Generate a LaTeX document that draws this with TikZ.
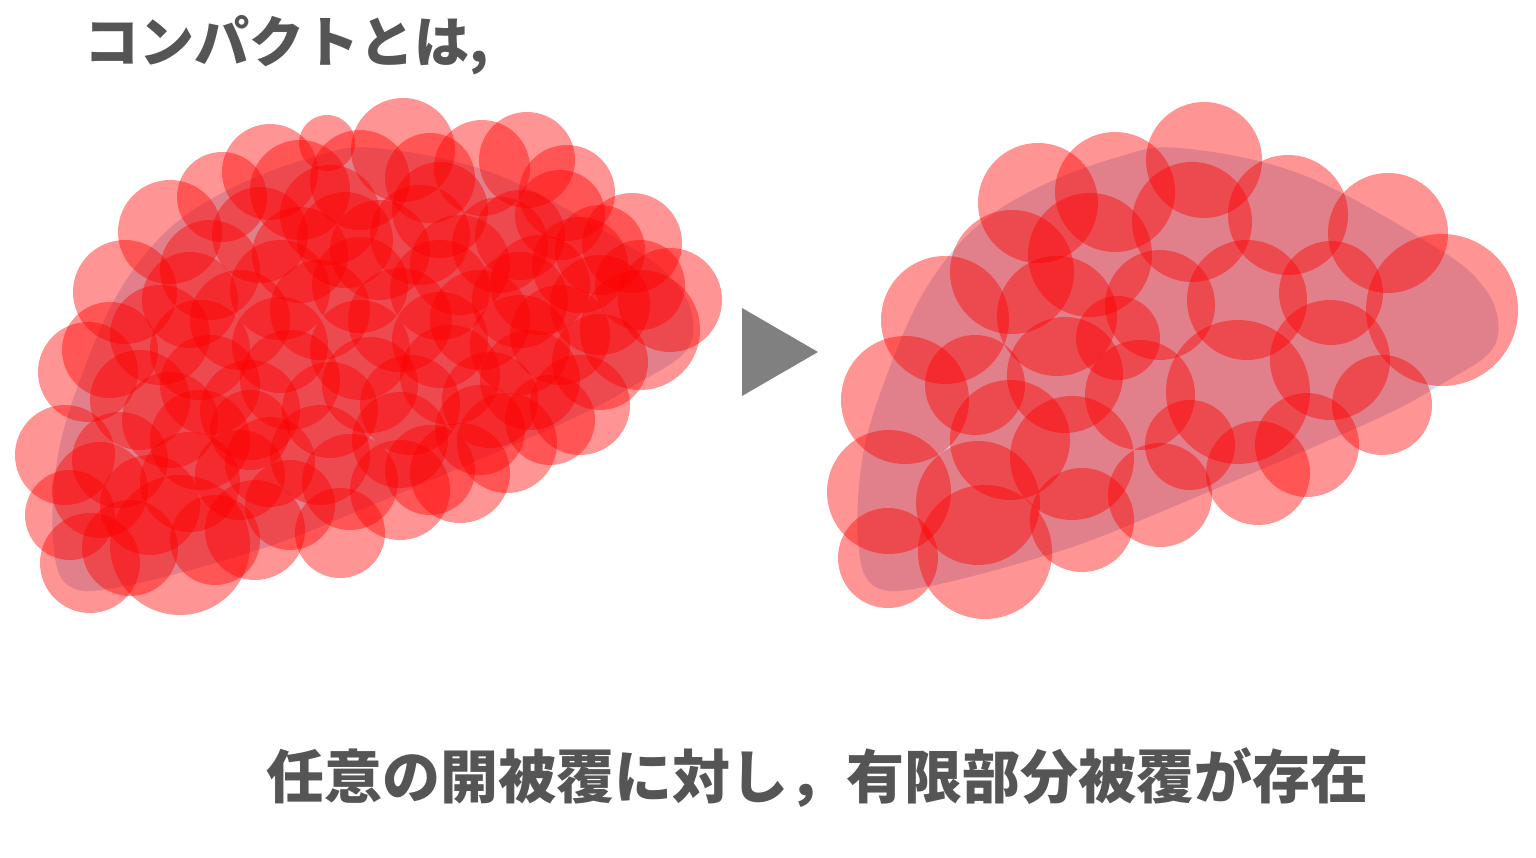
\documentclass[tikz,border=0pt]{standalone}
\usepackage{fontspec}
\newfontfamily\jpfont{Noto Sans CJK JP}
\definecolor{txtgray}{RGB}{85,85,85}
\definecolor{arrowgray}{RGB}{128,128,128}
\definecolor{blobgray}{RGB}{204,222,240}
\tikzset{
  circ/.style={fill=red, fill opacity=0.42},
  blob/.style={fill=blobgray},
}
\begin{document}
\begin{tikzpicture}[x=1pt,y=-1pt]
\fill[white] (0,0) rectangle (1536,858);
\useasboundingbox (0,0) rectangle (1536,858);
% the compact sets
\foreach \s in {0,-805}{
 \fill[blob, xshift=\s pt] plot[smooth cycle, tension=0.6] coordinates {
  (1180,148) (1303,175) (1437,248) (1482,285) (1498,320) (1490,352)
  (1445,382) (1370,422) (1170,508) (1063,550) (930,586) (874,586)
  (858,540) (863,455) (888,372) (925,290) (975,228) (1037,188) (1115,158)};
}
% left cover (many open sets)
\foreach \x/\y/\r in {
 90/563/50, 180/545/70, 65/455/50, 88/372/50, 125/292/52, 170/232/52,
 222/197/45, 270/172/48, 327/143/28, 300/190/50, 403/150/52, 482/168/48,
 527/160/48, 567/193/48, 632/243/50, 670/300/52, 640/330/60, 580/405/50,
 507/443/50, 460/473/50, 400/490/50, 340/533/45, 255/530/50,
 330/215/50, 440/210/48, 520/235/45, 600/250/45,
 210/270/50, 300/255/48, 380/250/50, 460/265/50, 540/285/50,
 160/335/50, 240/320/50, 320/310/50, 400/320/52, 480/320/50, 560/335/50,
 140/400/50, 210/385/50, 290/380/50, 370/385/48, 450/375/50, 530/380/50,
 120/460/48, 200/440/50, 250/430/40, 320/455/50, 400/440/48, 480/430/45,
 150/505/50, 240/475/45, 290/505/45,
 360/180/50, 430/178/45, 560/215/45,
 260/235/48, 345/240/48, 420/235/50, 500/245/48, 580/265/48, 640/285/45,
 190/300/48, 280/290/50, 360/285/48, 440/290/50, 520/300/48, 600/305/50,
 110/350/48, 200/350/50, 280/345/48, 360/350/50, 440/340/48, 520/345/50, 600/362/48,
 170/420/48, 250/410/50, 330/410/48, 410/405/50, 490/400/48, 550/420/45,
 100/490/48, 190/482/50, 270/462/45, 350/482/48, 430/470/45,
 130/548/48, 215/540/45, 70/515/45}
 {\fill[circ] (\x,\y) circle[radius=\r pt];}
% right cover (finite subcover)
\foreach \x/\y/\r in {
 1038/203/60, 1115/192/60, 1204/160/58, 1192/222/60, 1288/215/60,
 1388/233/60, 1442/310/76, 1012/272/62, 1090/255/62, 1057/316/60,
 945/320/64, 1160/305/55, 1247/300/60, 1331/293/52, 1238/392/72,
 1330/360/60, 1140/395/55, 1065/375/58, 905/400/64, 1010/440/60,
 1072/458/62, 978/503/62, 889/492/62, 888/558/50, 985/552/67,
 1082/520/52, 1160/495/52, 1258/473/52, 1307/445/52, 1382/405/50,
 975/385/50, 1118/338/42, 1190/445/45}
 {\fill[circ] (\x,\y) circle[radius=\r pt];}
% arrow triangle
\fill[arrowgray] (742,308) -- (818,352) -- (742,396) -- cycle;
% texts
\node[anchor=west, inner sep=0pt, text=txtgray, font=\jpfont\bfseries\fontsize{55}{60}\selectfont] (title) at (84,45) {コンパクトとは,};
\node[anchor=west, inner sep=0pt, text=txtgray, font=\jpfont\bfseries\fontsize{58}{64}\selectfont] (caption) at (266,778) {任意の開被覆に対し，有限部分被覆が存在};
\end{tikzpicture}
\end{document}
